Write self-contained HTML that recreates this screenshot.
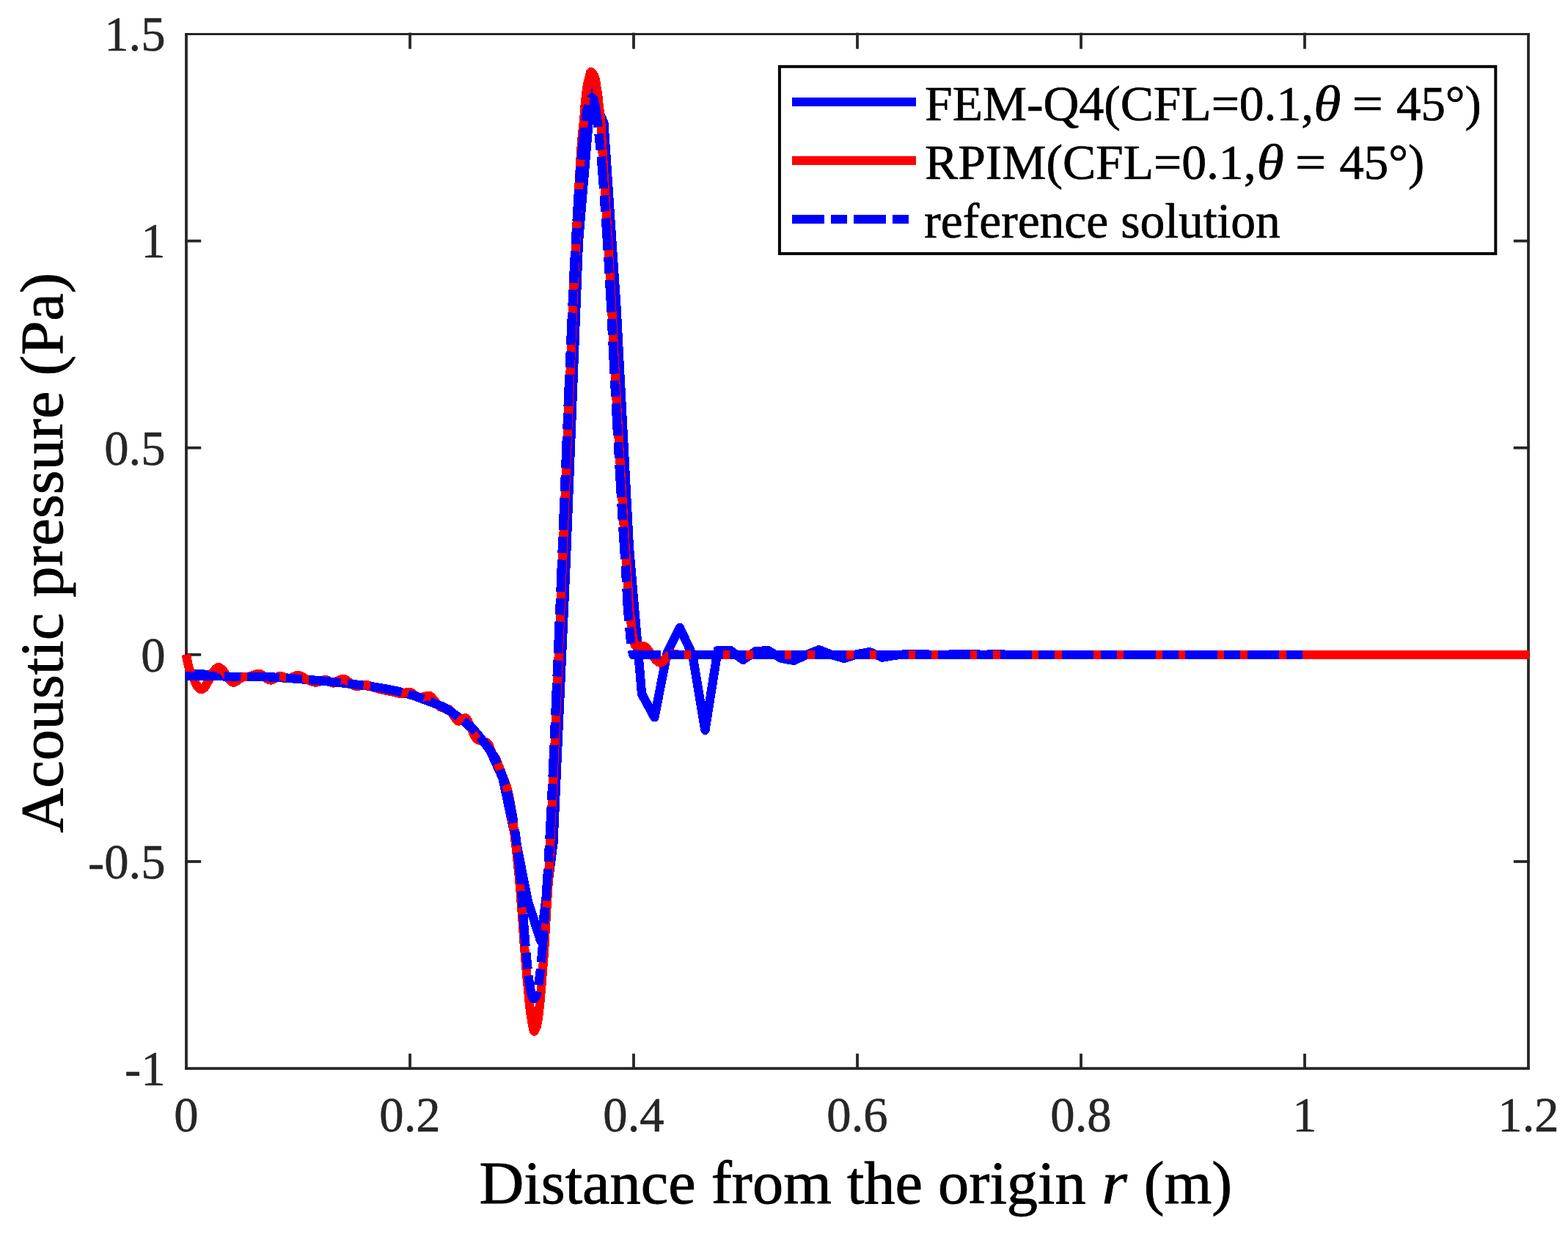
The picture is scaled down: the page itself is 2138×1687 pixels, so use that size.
<!DOCTYPE html>
<html lang="en">
<head>
<meta charset="utf-8">
<title>Acoustic pressure vs distance from the origin</title>
<style>
html,body{margin:0;padding:0;background:#fff;}
body{width:2138px;height:1687px;overflow:hidden;}
svg{display:block;}
text{white-space:pre;}
</style>
</head>
<body>
<svg width="2138" height="1687" viewBox="0 0 2138 1687">
<rect width="2138" height="1687" fill="#fff"/>
<g fill="none" stroke="#262626" stroke-width="3.8" stroke-linecap="square">
<line x1="254" y1="44.95" x2="254" y2="1459" stroke-linecap="butt"/>
<line x1="2084" y1="44.95" x2="2084" y2="1459" stroke-linecap="butt"/>
<line x1="252.1" y1="1457.1" x2="2085.9" y2="1457.1" stroke-linecap="butt"/>
<line x1="252.1" y1="46.45" x2="2085.9" y2="46.45" stroke-linecap="butt" stroke-width="3"/>
<line x1="559.00" y1="1457.1" x2="559.00" y2="1438.8"/>
<line x1="559.00" y1="46.5" x2="559.00" y2="64.8"/>
<line x1="864.00" y1="1457.1" x2="864.00" y2="1438.8"/>
<line x1="864.00" y1="46.5" x2="864.00" y2="64.8"/>
<line x1="1169.00" y1="1457.1" x2="1169.00" y2="1438.8"/>
<line x1="1169.00" y1="46.5" x2="1169.00" y2="64.8"/>
<line x1="1474.00" y1="1457.1" x2="1474.00" y2="1438.8"/>
<line x1="1474.00" y1="46.5" x2="1474.00" y2="64.8"/>
<line x1="1779.00" y1="1457.1" x2="1779.00" y2="1438.8"/>
<line x1="1779.00" y1="46.5" x2="1779.00" y2="64.8"/>
<line x1="254" y1="1174.98" x2="272.3" y2="1174.98"/>
<line x1="2084" y1="1174.98" x2="2065.7" y2="1174.98"/>
<line x1="254" y1="892.86" x2="272.3" y2="892.86"/>
<line x1="2084" y1="892.86" x2="2065.7" y2="892.86"/>
<line x1="254" y1="610.74" x2="272.3" y2="610.74"/>
<line x1="2084" y1="610.74" x2="2065.7" y2="610.74"/>
<line x1="254" y1="328.62" x2="272.3" y2="328.62"/>
<line x1="2084" y1="328.62" x2="2065.7" y2="328.62"/>
</g>
<g font-family="'Liberation Serif', 'Times New Roman', serif" font-size="66.67" fill="#262626" stroke="#262626" stroke-width="0.6" stroke-linejoin="round">
<text x="254.00" y="1543.3" text-anchor="middle">0</text>
<text x="559.00" y="1543.3" text-anchor="middle">0.2</text>
<text x="864.00" y="1543.3" text-anchor="middle">0.4</text>
<text x="1169.00" y="1543.3" text-anchor="middle">0.6</text>
<text x="1474.00" y="1543.3" text-anchor="middle">0.8</text>
<text x="1779.00" y="1543.3" text-anchor="middle">1</text>
<text x="2084.00" y="1543.3" text-anchor="middle">1.2</text>
<text x="225.5" y="69.30" text-anchor="end">1.5</text>
<text x="225.5" y="351.42" text-anchor="end">1</text>
<text x="225.5" y="633.54" text-anchor="end">0.5</text>
<text x="225.5" y="915.66" text-anchor="end">0</text>
<text x="225.5" y="1197.78" text-anchor="end">-0.5</text>
<text x="225.5" y="1479.90" text-anchor="end">-1</text>
</g>
<g fill="none" stroke-width="12.3" stroke-linejoin="round" stroke-linecap="butt" shape-rendering="crispEdges">
<polyline stroke="#0000ff" points="254.0,920.0 271.3,919.0 288.5,920.5 305.8,922.5 323.0,922.9 340.3,922.7 357.5,923.0 374.8,923.7 392.0,924.8 409.3,926.1 426.5,927.5 443.8,929.1 461.0,930.8 478.3,932.7 495.6,934.7 512.8,937.2 530.1,940.2 547.3,944.0 564.6,948.9 581.8,955.3 599.1,961.8 616.3,971.7 633.6,984.3 650.8,1000.7 668.1,1023.1 685.4,1061.0 702.6,1142.0 719.9,1229.0 737.1,1283.0 754.4,1150.0 771.6,770.0 788.9,330.0 806.1,126.0 823.4,168.0 840.6,421.0 857.9,746.0 875.1,946.5 892.4,978.3 909.7,890.0 926.9,856.0 944.2,893.0 961.4,995.8 978.7,886.9 995.9,886.9 1013.2,899.9 1030.4,888.2 1047.7,887.2 1064.9,897.7 1082.2,900.9 1099.4,893.2 1116.7,886.1 1134.0,893.0 1151.2,897.9 1168.5,892.2 1185.7,889.1 1203.0,896.6 1220.2,893.7 1237.5,891.9 1254.7,891.9 1272.0,893.0 1289.2,893.0 1306.5,891.9 1323.7,891.9 1341.0,893.0 1358.3,891.9 1375.5,893.0 1779.0,892.9"/>
<polyline stroke="#ff0000" points="254.0,892.6 254.2,893.8 254.4,895.0 254.5,896.2 254.7,897.4 255.0,898.8 255.2,900.0 255.5,901.3 255.8,902.7 256.1,904.1 256.4,905.5 256.7,907.0 257.1,908.4 257.4,909.7 257.8,911.0 258.3,912.5 258.8,913.8 259.3,915.2 259.9,916.5 260.4,917.7 261.0,919.0 261.6,920.4 262.2,921.7 262.9,923.0 263.5,924.3 264.1,925.6 264.7,927.0 265.3,928.3 265.8,929.7 266.4,931.1 267.0,932.3 267.6,933.5 268.3,934.7 269.0,935.8 269.7,936.8 270.5,937.7 271.4,938.4 272.3,939.0 273.4,939.7 274.5,940.0 275.6,939.8 276.7,939.2 277.8,938.5 278.8,937.6 279.5,936.8 280.1,935.9 280.7,934.8 281.3,933.8 281.9,932.7 282.5,931.6 283.1,930.4 283.7,929.3 284.4,928.1 285.1,926.9 285.9,925.7 286.7,924.3 287.3,923.2 287.9,922.1 288.5,920.9 289.1,919.6 289.8,918.3 290.5,917.1 291.2,916.0 292.0,915.0 292.9,913.9 293.9,912.8 294.9,911.8 295.9,911.0 297.0,910.4 298.0,910.2 299.2,910.4 300.4,911.2 301.7,912.2 302.9,913.3 304.0,914.5 304.9,915.5 305.8,916.7 306.7,918.0 307.6,919.3 308.4,920.6 309.2,921.9 310.0,923.0 310.8,924.2 311.6,925.3 312.4,926.4 313.2,927.4 314.0,928.3 315.0,929.1 316.0,929.9 317.0,930.5 318.0,930.8 319.3,930.6 320.7,930.0 322.0,929.3 323.0,928.7 323.9,927.9 324.9,927.0 325.9,926.2 327.0,925.5 328.1,924.9 329.3,924.4 330.5,923.9 331.7,923.5 333.0,923.2 334.4,923.0 335.8,922.9 337.2,922.9 338.6,922.8 340.0,922.6 341.4,922.2 342.8,921.8 344.2,921.2 345.6,920.7 347.0,920.3 348.4,919.9 349.8,919.4 351.2,919.0 352.6,918.7 354.0,918.8 355.2,919.2 356.4,920.0 357.5,920.9 358.6,921.8 359.8,922.8 361.0,923.6 362.3,924.4 363.6,925.3 365.0,926.1 366.3,926.8 367.7,927.3 369.0,927.5 370.2,927.4 371.4,927.1 372.6,926.5 373.7,925.9 374.9,925.3 376.0,924.8 377.2,924.1 378.4,923.4 379.6,922.7 380.8,922.2 382.0,921.9 383.2,922.0 384.4,922.3 385.6,922.7 386.8,923.2 388.0,923.5 389.4,923.9 390.8,924.4 392.2,924.8 393.6,925.0 395.0,925.0 396.2,924.8 397.4,924.3 398.6,923.6 399.8,923.0 401.0,922.5 402.2,922.1 403.3,921.6 404.5,921.2 405.7,921.0 407.0,921.0 408.1,921.2 409.2,921.6 410.4,922.1 411.6,922.8 412.9,923.5 414.2,924.3 415.4,925.0 416.7,925.7 418.0,926.3 419.3,926.9 420.7,927.5 422.1,928.1 423.4,928.7 424.8,929.2 426.2,929.7 427.5,930.1 428.8,930.4 430.0,930.5 431.5,930.5 432.9,930.2 434.3,929.8 435.6,929.3 437.0,928.9 438.4,928.5 439.8,928.0 441.3,927.4 442.6,927.1 444.0,927.0 445.2,927.3 446.5,927.8 447.7,928.4 448.8,929.1 450.0,929.7 451.3,930.3 452.5,930.9 453.7,931.4 455.0,931.5 456.1,931.3 457.2,930.7 458.4,930.0 459.6,929.2 460.8,928.5 462.0,927.9 463.4,927.3 464.8,926.7 466.2,926.2 467.6,925.9 469.0,925.9 470.1,926.2 471.3,926.8 472.4,927.6 473.6,928.5 474.7,929.4 475.9,930.3 477.0,931.1 478.1,931.8 479.3,932.6 480.4,933.4 481.6,934.2 482.7,934.9 483.9,935.4 485.0,935.8 486.4,935.9 487.8,935.8 489.2,935.6 490.6,935.3 492.0,935.1 493.3,934.9 494.6,934.7 495.9,934.5 497.3,934.3 498.6,934.2 500.0,934.3 501.2,934.5 502.4,934.8 503.7,935.2 504.9,935.7 506.2,936.2 507.5,936.7 508.7,937.1 510.0,937.6 511.4,938.0 512.8,938.4 514.2,938.9 515.6,939.3 517.0,939.7 518.5,940.1 520.0,940.5 521.3,940.8 522.7,941.1 524.0,941.3 525.4,941.6 526.9,941.9 528.3,942.1 529.8,942.4 531.2,942.7 532.6,942.9 534.0,943.2 535.5,943.6 537.0,943.9 538.6,944.4 540.1,944.8 541.6,945.2 543.1,945.5 544.5,945.8 545.8,945.9 547.0,946.0 548.3,945.8 549.6,945.5 550.7,945.1 551.8,944.8 553.0,944.5 554.2,944.2 555.4,944.0 556.6,943.8 557.8,943.7 559.0,943.9 560.2,944.3 561.3,945.0 562.5,945.9 563.6,946.8 564.8,947.6 566.0,948.3 567.1,949.0 568.3,949.6 569.5,950.2 570.6,950.7 571.8,951.1 573.0,951.3 574.4,951.2 575.8,950.9 577.2,950.4 578.6,949.9 580.0,949.6 581.2,949.3 582.5,949.1 583.7,948.9 584.8,948.8 586.0,949.1 587.0,949.7 588.1,950.6 589.1,951.7 590.0,952.9 591.0,954.2 592.0,955.4 593.0,956.5 594.0,957.7 595.0,958.8 595.9,960.0 596.9,961.2 597.9,962.2 598.9,963.2 600.0,964.0 601.3,964.6 602.8,965.1 604.2,965.4 605.6,965.8 607.0,966.1 608.2,966.4 609.5,966.6 610.7,966.9 611.9,967.3 613.0,967.9 613.8,968.6 614.6,969.6 615.4,970.7 616.1,971.9 616.8,973.1 617.5,974.4 618.2,975.5 619.0,976.6 619.8,977.8 620.7,979.0 621.5,980.2 622.4,981.4 623.2,982.3 624.1,983.1 625.0,983.5 626.2,983.5 627.5,983.0 628.7,982.2 630.0,981.6 631.3,980.9 632.5,980.0 633.8,979.4 635.0,979.3 635.8,979.8 636.5,980.6 637.2,981.7 637.9,983.0 638.6,984.5 639.2,986.1 639.9,987.7 640.6,989.3 641.3,990.9 642.0,992.3 642.6,993.6 643.3,995.0 643.9,996.4 644.5,997.9 645.1,999.3 645.8,1000.8 646.4,1002.2 647.1,1003.5 647.8,1004.8 648.5,1005.9 649.2,1006.9 650.0,1007.7 651.1,1008.5 652.2,1009.0 653.4,1009.4 654.6,1009.7 655.8,1010.0 657.0,1010.4 658.3,1010.9 659.7,1011.3 661.2,1011.8 662.5,1012.3 663.8,1013.0 665.0,1013.9 665.8,1014.9 666.5,1016.1 667.2,1017.4 667.8,1018.8 668.3,1020.3 668.8,1021.9 669.3,1023.4 669.9,1024.8 670.4,1026.2 671.0,1027.4 671.8,1028.6 672.5,1029.7 673.3,1030.7 674.0,1031.7 674.8,1032.8 675.5,1034.0 676.1,1035.2 676.7,1036.4 677.2,1037.7 677.8,1039.0 678.3,1040.4 678.9,1041.8 679.4,1043.2 679.9,1044.6 680.5,1046.0 681.0,1047.2 681.5,1048.5 682.0,1049.7 682.5,1051.0 683.0,1052.3 683.5,1053.5 684.0,1054.8 684.5,1056.1 685.0,1057.4 685.5,1058.7 686.0,1060.0 686.5,1061.3 687.0,1062.6 687.6,1064.0 688.1,1065.3 688.6,1066.6 689.1,1067.9 689.6,1069.3 690.1,1070.6 690.6,1072.0 691.1,1073.5 691.5,1075.0 691.9,1076.3 692.2,1077.6 692.5,1078.9 692.9,1080.3 693.2,1081.7 693.5,1083.1 693.8,1084.5 694.1,1086.0 694.4,1087.5 694.7,1088.9 695.0,1090.4 695.2,1091.9 695.5,1093.4 695.8,1095.0 696.0,1096.5 696.3,1098.0 696.5,1099.4 696.8,1100.8 697.0,1102.1 697.2,1103.6 697.4,1105.0 697.6,1106.4 697.8,1107.8 698.0,1109.3 698.2,1110.7 698.4,1112.2 698.5,1113.7 698.7,1115.1 698.9,1116.6 699.1,1118.1 699.3,1119.6 699.5,1121.1 699.6,1122.5 699.8,1124.0 700.0,1125.5 700.2,1127.0 700.4,1128.4 700.6,1129.8 700.7,1131.2 700.9,1132.7 701.1,1134.1 701.3,1135.5 701.4,1136.9 701.6,1138.4 701.8,1139.8 702.0,1141.2 702.1,1142.7 702.3,1144.1 702.5,1145.5 702.6,1147.0 702.8,1148.5 703.0,1149.9 703.1,1151.4 703.3,1152.9 703.5,1154.4 703.7,1155.9 703.8,1157.5 704.0,1159.0 704.2,1160.4 704.3,1161.8 704.5,1163.2 704.6,1164.6 704.8,1166.0 704.9,1167.5 705.1,1168.9 705.2,1170.4 705.4,1171.8 705.5,1173.3 705.7,1174.8 705.9,1176.2 706.0,1177.7 706.2,1179.2 706.3,1180.7 706.5,1182.2 706.6,1183.7 706.8,1185.2 706.9,1186.7 707.1,1188.2 707.2,1189.7 707.4,1191.2 707.5,1192.6 707.7,1194.1 707.8,1195.6 707.9,1197.1 708.1,1198.5 708.2,1200.0 708.3,1201.5 708.5,1203.0 708.6,1204.5 708.7,1206.0 708.9,1207.4 709.0,1208.9 709.1,1210.4 709.2,1211.9 709.4,1213.4 709.5,1214.8 709.6,1216.3 709.7,1217.8 709.8,1219.3 709.9,1220.8 710.1,1222.2 710.2,1223.7 710.3,1225.2 710.4,1226.7 710.5,1228.2 710.6,1229.6 710.7,1231.1 710.8,1232.6 711.0,1234.1 711.1,1235.6 711.2,1237.0 711.3,1238.5 711.4,1240.0 711.5,1241.5 711.6,1243.0 711.7,1244.4 711.8,1245.9 711.9,1247.4 712.0,1248.9 712.1,1250.4 712.3,1251.9 712.4,1253.4 712.5,1254.9 712.6,1256.3 712.7,1257.8 712.8,1259.3 712.9,1260.8 713.0,1262.3 713.1,1263.8 713.2,1265.3 713.3,1266.7 713.4,1268.2 713.5,1269.7 713.6,1271.2 713.7,1272.7 713.8,1274.1 713.9,1275.6 714.0,1277.1 714.1,1278.5 714.2,1280.0 714.3,1281.5 714.4,1283.0 714.5,1284.5 714.6,1285.9 714.8,1287.4 714.9,1288.9 715.0,1290.4 715.1,1291.9 715.2,1293.4 715.3,1294.9 715.4,1296.3 715.6,1297.8 715.7,1299.3 715.8,1300.8 715.9,1302.2 716.0,1303.7 716.1,1305.2 716.3,1306.6 716.4,1308.1 716.5,1309.5 716.6,1310.9 716.7,1312.4 716.8,1313.8 717.0,1315.2 717.1,1316.6 717.2,1318.0 717.3,1319.5 717.5,1321.0 717.6,1322.4 717.7,1323.9 717.8,1325.4 718.0,1326.8 718.1,1328.2 718.2,1329.7 718.4,1331.1 718.5,1332.5 718.6,1333.9 718.8,1335.3 718.9,1336.8 719.0,1338.2 719.2,1339.6 719.3,1341.0 719.4,1342.4 719.6,1343.8 719.7,1345.2 719.8,1346.6 720.0,1348.0 720.1,1349.4 720.2,1350.8 720.4,1352.3 720.5,1353.8 720.6,1355.3 720.8,1356.7 720.9,1358.2 721.1,1359.7 721.2,1361.2 721.3,1362.7 721.5,1364.1 721.6,1365.6 721.7,1367.1 721.9,1368.5 722.0,1369.9 722.2,1371.3 722.3,1372.7 722.5,1374.1 722.6,1375.4 722.8,1376.8 722.9,1378.0 723.1,1379.3 723.3,1380.9 723.5,1382.4 723.7,1383.9 724.0,1385.4 724.2,1386.9 724.4,1388.4 724.7,1389.8 724.9,1391.2 725.1,1392.5 725.4,1393.8 725.6,1395.0 725.8,1396.2 726.0,1397.3 726.3,1399.0 726.6,1400.6 726.9,1402.1 727.2,1403.4 727.5,1404.5 727.9,1405.9 728.3,1406.6 728.9,1405.8 729.5,1404.3 730.1,1403.2 730.7,1402.0 731.3,1400.7 731.7,1399.6 732.0,1398.4 732.3,1397.1 732.6,1395.6 732.9,1394.0 733.1,1392.9 733.3,1391.7 733.5,1390.4 733.7,1389.1 733.9,1387.6 734.1,1386.1 734.3,1384.6 734.5,1383.0 734.7,1381.4 734.8,1379.8 735.0,1378.1 735.2,1376.5 735.4,1374.9 735.6,1373.3 735.7,1371.8 735.9,1370.3 736.1,1368.8 736.2,1367.4 736.4,1365.9 736.5,1364.5 736.6,1363.1 736.8,1361.7 736.9,1360.2 737.0,1358.8 737.1,1357.4 737.3,1356.0 737.4,1354.5 737.5,1353.0 737.6,1351.5 737.8,1350.0 737.9,1348.5 738.0,1347.2 738.1,1345.8 738.2,1344.4 738.4,1343.0 738.5,1341.5 738.6,1340.1 738.7,1338.6 738.8,1337.1 739.0,1335.7 739.1,1334.2 739.2,1332.7 739.3,1331.2 739.4,1329.8 739.5,1328.3 739.7,1326.9 739.8,1325.4 739.9,1324.0 740.0,1322.7 740.1,1321.3 740.2,1320.0 740.3,1318.5 740.4,1317.0 740.6,1315.5 740.7,1314.0 740.8,1312.6 740.9,1311.2 741.0,1309.8 741.2,1308.4 741.3,1307.0 741.4,1305.6 741.5,1304.2 741.6,1302.8 741.7,1301.4 741.8,1300.0 741.9,1298.6 742.0,1297.2 742.1,1295.8 742.1,1294.5 742.2,1293.1 742.3,1291.8 742.4,1290.4 742.4,1289.1 742.5,1287.6 742.6,1286.2 742.6,1284.7 742.7,1283.2 742.8,1281.6 742.9,1280.0 743.0,1278.8 743.0,1277.5 743.1,1276.2 743.2,1274.8 743.3,1273.4 743.4,1272.0 743.4,1270.6 743.5,1269.2 743.6,1267.7 743.7,1266.2 743.8,1264.7 743.9,1263.2 744.0,1261.6 744.1,1260.1 744.2,1258.5 744.3,1257.0 744.4,1255.4 744.5,1253.8 744.6,1252.3 744.6,1250.7 744.7,1249.2 744.8,1247.6 744.9,1246.1 745.0,1244.5 745.1,1243.0 745.2,1241.5 745.3,1240.0 745.4,1238.5 745.5,1237.1 745.6,1235.6 745.7,1234.2 745.8,1232.8 745.8,1231.4 745.9,1230.0 746.0,1228.6 746.1,1227.2 746.2,1225.8 746.3,1224.4 746.4,1223.0 746.5,1221.6 746.6,1220.1 746.7,1218.7 746.8,1217.3 746.9,1215.8 747.0,1214.4 747.0,1212.9 747.1,1211.3 747.2,1209.8 747.3,1208.3 747.4,1206.7 747.5,1205.0 747.6,1203.4 747.7,1201.7 747.8,1200.0 747.9,1198.8 747.9,1197.5 748.0,1196.2 748.1,1194.9 748.1,1193.6 748.2,1192.3 748.3,1190.9 748.3,1189.6 748.4,1188.2 748.5,1186.8 748.6,1185.4 748.6,1184.0 748.7,1182.5 748.8,1181.1 748.8,1179.6 748.9,1178.1 749.0,1176.7 749.0,1175.2 749.1,1173.7 749.2,1172.2 749.3,1170.6 749.3,1169.1 749.4,1167.6 749.5,1166.0 749.5,1164.5 749.6,1162.9 749.7,1161.4 749.8,1159.8 749.8,1158.3 749.9,1156.7 750.0,1155.1 750.0,1153.6 750.1,1152.0 750.2,1150.4 750.3,1148.9 750.3,1147.3 750.4,1145.7 750.5,1144.2 750.5,1142.6 750.6,1141.0 750.7,1139.5 750.8,1137.9 750.8,1136.4 750.9,1134.9 751.0,1133.3 751.0,1131.8 751.1,1130.3 751.2,1128.8 751.3,1127.3 751.3,1125.8 751.4,1124.4 751.5,1122.9 751.5,1121.4 751.6,1120.0 751.7,1118.5 751.7,1116.9 751.8,1115.4 751.9,1113.9 752.0,1112.4 752.0,1110.9 752.1,1109.4 752.2,1107.9 752.3,1106.4 752.3,1105.0 752.4,1103.5 752.5,1102.0 752.5,1100.6 752.6,1099.1 752.7,1097.6 752.8,1096.2 752.8,1094.7 752.9,1093.3 753.0,1091.8 753.1,1090.4 753.1,1088.9 753.2,1087.5 753.3,1086.0 753.3,1084.6 753.4,1083.1 753.5,1081.7 753.6,1080.2 753.6,1078.8 753.7,1077.3 753.8,1075.8 753.8,1074.4 753.9,1072.9 754.0,1071.4 754.1,1069.9 754.1,1068.4 754.2,1066.9 754.3,1065.4 754.3,1063.9 754.4,1062.4 754.5,1060.9 754.6,1059.4 754.6,1057.8 754.7,1056.3 754.8,1054.7 754.9,1053.2 754.9,1051.6 755.0,1050.0 755.1,1048.6 755.1,1047.2 755.2,1045.8 755.3,1044.4 755.3,1043.0 755.4,1041.6 755.4,1040.2 755.5,1038.8 755.6,1037.3 755.6,1035.9 755.7,1034.5 755.8,1033.0 755.8,1031.6 755.9,1030.1 756.0,1028.7 756.0,1027.2 756.1,1025.8 756.2,1024.3 756.2,1022.8 756.3,1021.4 756.3,1019.9 756.4,1018.4 756.5,1016.9 756.5,1015.4 756.6,1013.9 756.7,1012.5 756.7,1011.0 756.8,1009.5 756.9,1008.0 756.9,1006.5 757.0,1005.0 757.1,1003.5 757.1,1002.0 757.2,1000.4 757.2,998.9 757.3,997.4 757.4,995.9 757.4,994.4 757.5,992.9 757.6,991.4 757.6,989.9 757.7,988.3 757.8,986.8 757.8,985.3 757.9,983.8 758.0,982.3 758.0,980.7 758.1,979.2 758.2,977.7 758.2,976.2 758.3,974.7 758.3,973.1 758.4,971.6 758.5,970.1 758.5,968.6 758.6,967.1 758.7,965.6 758.7,964.0 758.8,962.5 758.9,961.0 758.9,959.5 759.0,958.0 759.1,956.5 759.1,955.1 759.2,953.6 759.3,952.2 759.3,950.7 759.4,949.3 759.4,947.8 759.5,946.4 759.6,945.0 759.6,943.5 759.7,942.1 759.7,940.7 759.8,939.2 759.9,937.8 759.9,936.4 760.0,935.0 760.1,933.5 760.1,932.1 760.2,930.7 760.2,929.2 760.3,927.8 760.4,926.4 760.4,925.0 760.5,923.5 760.6,922.1 760.6,920.7 760.7,919.2 760.7,917.8 760.8,916.4 760.9,914.9 760.9,913.5 761.0,912.0 761.1,910.6 761.1,909.1 761.2,907.7 761.2,906.2 761.3,904.8 761.4,903.3 761.4,901.8 761.5,900.4 761.6,898.9 761.6,897.4 761.7,895.9 761.7,894.4 761.8,892.9 761.9,891.4 761.9,889.9 762.0,888.4 762.1,886.9 762.1,885.4 762.2,883.9 762.3,882.3 762.3,880.8 762.4,879.2 762.5,877.7 762.5,876.1 762.6,874.5 762.7,872.9 762.7,871.4 762.8,869.8 762.9,868.2 762.9,866.5 763.0,864.9 763.1,863.3 763.1,861.6 763.2,860.0 763.3,858.7 763.3,857.3 763.4,856.0 763.4,854.7 763.5,853.3 763.5,852.0 763.6,850.6 763.6,849.2 763.7,847.9 763.8,846.5 763.8,845.1 763.9,843.7 763.9,842.4 764.0,841.0 764.0,839.6 764.1,838.2 764.2,836.7 764.2,835.3 764.3,833.9 764.3,832.5 764.4,831.1 764.5,829.6 764.5,828.2 764.6,826.7 764.6,825.3 764.7,823.9 764.8,822.4 764.8,820.9 764.9,819.5 764.9,818.0 765.0,816.5 765.0,815.1 765.1,813.6 765.2,812.1 765.2,810.6 765.3,809.2 765.3,807.7 765.4,806.2 765.5,804.7 765.5,803.2 765.6,801.7 765.7,800.2 765.7,798.7 765.8,797.2 765.8,795.7 765.9,794.1 766.0,792.6 766.0,791.1 766.1,789.6 766.1,788.1 766.2,786.5 766.3,785.0 766.3,783.5 766.4,782.0 766.5,780.4 766.5,778.9 766.6,777.4 766.6,775.8 766.7,774.3 766.8,772.7 766.8,771.2 766.9,769.7 766.9,768.1 767.0,766.6 767.1,765.0 767.1,763.5 767.2,761.9 767.3,760.4 767.3,758.9 767.4,757.3 767.4,755.8 767.5,754.2 767.6,752.7 767.6,751.1 767.7,749.6 767.8,748.0 767.8,746.5 767.9,744.9 767.9,743.4 768.0,741.8 768.1,740.3 768.1,738.7 768.2,737.2 768.3,735.6 768.3,734.1 768.4,732.6 768.4,731.0 768.5,729.5 768.6,727.9 768.6,726.4 768.7,724.8 768.8,723.3 768.8,721.8 768.9,720.2 768.9,718.7 769.0,717.2 769.1,715.6 769.1,714.1 769.2,712.6 769.3,711.1 769.3,709.6 769.4,708.0 769.4,706.5 769.5,705.0 769.6,703.5 769.6,702.1 769.7,700.6 769.7,699.1 769.8,697.7 769.9,696.2 769.9,694.7 770.0,693.3 770.0,691.8 770.1,690.3 770.2,688.8 770.2,687.3 770.3,685.9 770.3,684.4 770.4,682.9 770.5,681.4 770.5,679.9 770.6,678.5 770.6,677.0 770.7,675.5 770.8,674.0 770.8,672.5 770.9,671.0 770.9,669.5 771.0,668.0 771.1,666.6 771.1,665.1 771.2,663.6 771.2,662.1 771.3,660.6 771.4,659.1 771.4,657.6 771.5,656.1 771.5,654.6 771.6,653.1 771.7,651.6 771.7,650.1 771.8,648.6 771.8,647.1 771.9,645.6 772.0,644.1 772.0,642.6 772.1,641.1 772.1,639.6 772.2,638.1 772.3,636.6 772.3,635.1 772.4,633.6 772.5,632.1 772.5,630.6 772.6,629.1 772.6,627.6 772.7,626.1 772.8,624.6 772.8,623.1 772.9,621.6 772.9,620.1 773.0,618.6 773.1,617.1 773.1,615.6 773.2,614.1 773.2,612.6 773.3,611.1 773.4,609.6 773.4,608.1 773.5,606.6 773.5,605.1 773.6,603.6 773.7,602.1 773.7,600.6 773.8,599.1 773.8,597.7 773.9,596.2 774.0,594.7 774.0,593.2 774.1,591.7 774.2,590.2 774.2,588.7 774.3,587.2 774.3,585.7 774.4,584.2 774.5,582.7 774.5,581.2 774.6,579.8 774.6,578.3 774.7,576.8 774.8,575.3 774.8,573.8 774.9,572.3 774.9,570.8 775.0,569.4 775.1,567.9 775.1,566.4 775.2,564.9 775.2,563.5 775.3,562.0 775.4,560.5 775.4,559.0 775.5,557.6 775.5,556.1 775.6,554.6 775.7,553.1 775.7,551.7 775.8,550.2 775.8,548.8 775.9,547.3 776.0,545.8 776.0,544.4 776.1,542.9 776.1,541.5 776.2,540.0 776.3,538.5 776.3,536.9 776.4,535.4 776.5,533.9 776.5,532.3 776.6,530.8 776.6,529.2 776.7,527.7 776.8,526.1 776.8,524.6 776.9,523.0 777.0,521.5 777.0,519.9 777.1,518.4 777.1,516.8 777.2,515.2 777.3,513.7 777.3,512.1 777.4,510.6 777.5,509.0 777.5,507.4 777.6,505.9 777.7,504.3 777.7,502.7 777.8,501.2 777.8,499.6 777.9,498.0 778.0,496.5 778.0,494.9 778.1,493.3 778.2,491.8 778.2,490.2 778.3,488.6 778.4,487.1 778.4,485.5 778.5,483.9 778.5,482.4 778.6,480.8 778.7,479.3 778.7,477.7 778.8,476.1 778.9,474.6 778.9,473.0 779.0,471.5 779.1,469.9 779.1,468.4 779.2,466.8 779.2,465.3 779.3,463.7 779.4,462.2 779.4,460.7 779.5,459.1 779.6,457.6 779.6,456.1 779.7,454.5 779.8,453.0 779.8,451.5 779.9,450.0 779.9,448.4 780.0,446.9 780.1,445.4 780.1,443.9 780.2,442.4 780.3,440.9 780.3,439.4 780.4,437.9 780.4,436.4 780.5,434.9 780.6,433.4 780.6,432.0 780.7,430.5 780.8,429.0 780.8,427.6 780.9,426.1 780.9,424.6 781.0,423.2 781.1,421.7 781.1,420.3 781.2,418.9 781.2,417.4 781.3,416.0 781.4,414.6 781.4,413.2 781.5,411.8 781.5,410.3 781.6,408.9 781.7,407.6 781.7,406.2 781.8,404.8 781.8,403.4 781.9,402.0 782.0,400.7 782.0,399.3 782.1,398.0 782.1,396.6 782.2,395.3 782.3,394.0 782.3,392.6 782.4,391.3 782.4,390.0 782.5,388.7 782.6,387.0 782.7,385.4 782.7,383.7 782.8,382.1 782.9,380.4 782.9,378.8 783.0,377.2 783.1,375.6 783.2,374.0 783.2,372.4 783.3,370.8 783.4,369.2 783.5,367.7 783.5,366.1 783.6,364.5 783.7,363.0 783.8,361.5 783.8,359.9 783.9,358.4 784.0,356.9 784.0,355.4 784.1,353.9 784.2,352.4 784.3,350.9 784.3,349.4 784.4,347.9 784.5,346.4 784.5,344.9 784.6,343.5 784.7,342.0 784.7,340.6 784.8,339.1 784.9,337.7 785.0,336.2 785.0,334.8 785.1,333.4 785.2,331.9 785.2,330.5 785.3,329.1 785.4,327.7 785.5,326.3 785.5,324.9 785.6,323.5 785.7,322.1 785.7,320.7 785.8,319.3 785.9,317.9 785.9,316.5 786.0,315.1 786.1,313.7 786.2,312.3 786.2,311.0 786.3,309.6 786.4,308.2 786.4,306.8 786.5,305.5 786.6,304.1 786.7,302.7 786.7,301.4 786.8,300.0 786.9,298.4 787.0,296.8 787.1,295.2 787.1,293.7 787.2,292.1 787.3,290.5 787.4,289.0 787.5,287.4 787.6,285.9 787.6,284.3 787.7,282.8 787.8,281.2 787.9,279.7 788.0,278.2 788.1,276.6 788.2,275.1 788.2,273.6 788.3,272.1 788.4,270.6 788.5,269.1 788.6,267.6 788.7,266.1 788.7,264.6 788.8,263.2 788.9,261.7 789.0,260.2 789.1,258.8 789.2,257.3 789.3,255.9 789.3,254.5 789.4,253.0 789.5,251.6 789.6,250.2 789.7,248.8 789.8,247.4 789.8,246.0 789.9,244.6 790.0,243.2 790.1,241.8 790.2,240.4 790.3,239.1 790.3,237.7 790.4,236.3 790.5,235.0 790.6,233.4 790.7,231.8 790.8,230.3 790.9,228.7 791.0,227.2 791.1,225.6 791.1,224.1 791.2,222.6 791.3,221.0 791.4,219.5 791.5,218.0 791.6,216.5 791.7,215.1 791.8,213.6 791.9,212.1 791.9,210.7 792.0,209.2 792.1,207.8 792.2,206.3 792.3,204.9 792.4,203.5 792.5,202.1 792.6,200.7 792.7,199.3 792.8,198.0 792.9,196.6 793.0,195.3 793.1,193.9 793.2,192.6 793.3,191.3 793.4,190.0 793.5,188.4 793.7,186.8 793.8,185.2 794.0,183.6 794.1,182.1 794.3,180.6 794.5,179.1 794.6,177.6 794.8,176.1 794.9,174.6 795.1,173.2 795.3,171.7 795.4,170.3 795.6,168.9 795.7,167.5 795.9,166.1 796.0,164.7 796.1,163.3 796.3,162.0 796.4,160.6 796.5,159.0 796.7,157.5 796.8,156.0 796.9,154.5 797.0,153.1 797.1,151.6 797.2,150.2 797.3,148.8 797.4,147.4 797.5,145.9 797.6,144.5 797.7,143.1 797.8,141.6 798.0,140.2 798.1,138.7 798.3,137.2 798.4,135.8 798.6,134.2 798.7,132.7 798.9,131.2 799.1,129.6 799.3,128.1 799.4,126.5 799.6,125.0 799.8,123.5 800.0,122.1 800.2,120.6 800.4,119.2 800.7,117.9 800.9,116.6 801.1,115.4 801.4,113.8 801.8,112.2 802.1,110.8 802.5,109.4 802.9,108.0 803.2,106.7 803.6,105.5 803.9,104.3 804.2,102.8 804.5,101.2 804.7,99.8 805.0,98.7 805.5,98.2 806.3,98.4 807.3,99.3 808.2,100.3 808.8,101.2 809.4,102.1 810.0,103.2 810.5,104.4 811.0,105.7 811.3,106.8 811.6,108.0 811.9,109.3 812.1,110.6 812.4,112.0 812.6,113.4 812.8,114.7 813.0,116.1 813.2,117.4 813.4,118.7 813.7,120.0 813.9,121.3 814.1,122.6 814.3,124.0 814.5,125.3 814.7,126.7 814.9,128.2 815.1,129.5 815.2,130.8 815.4,132.1 815.5,133.5 815.7,134.9 815.8,136.3 816.0,137.8 816.1,139.2 816.3,140.6 816.4,142.0 816.6,143.5 816.7,144.8 816.9,146.2 817.1,147.7 817.3,149.1 817.5,150.5 817.6,151.9 817.8,153.3 818.0,154.7 818.2,156.1 818.4,157.5 818.6,159.0 818.7,160.6 818.9,162.2 819.0,163.5 819.1,164.8 819.2,166.1 819.3,167.5 819.4,168.9 819.5,170.4 819.6,171.8 819.6,173.3 819.7,174.8 819.8,176.3 819.9,177.8 819.9,179.4 820.0,180.9 820.1,182.4 820.2,183.9 820.2,185.5 820.3,187.0 820.4,188.5 820.5,190.0 820.6,191.4 820.7,192.8 820.8,194.1 820.8,195.4 820.9,196.8 821.0,198.1 821.1,199.4 821.2,200.7 821.3,202.0 821.3,203.4 821.4,204.7 821.5,206.1 821.6,207.5 821.7,208.9 821.8,210.3 821.9,211.8 822.0,213.4 822.1,214.9 822.2,216.6 822.3,218.3 822.4,220.0 822.5,221.1 822.5,222.3 822.6,223.5 822.7,224.7 822.8,225.9 822.8,227.2 822.9,228.5 823.0,229.8 823.1,231.1 823.2,232.4 823.3,233.8 823.3,235.2 823.4,236.6 823.5,238.0 823.6,239.4 823.7,240.9 823.8,242.3 823.9,243.8 824.0,245.3 824.1,246.8 824.2,248.3 824.2,249.8 824.3,251.4 824.4,252.9 824.5,254.5 824.6,256.0 824.7,257.6 824.8,259.2 824.9,260.7 825.0,262.3 825.1,263.9 825.2,265.5 825.3,267.1 825.4,268.7 825.5,270.3 825.6,271.9 825.7,273.5 825.8,275.1 825.9,276.7 826.0,278.3 826.1,279.9 826.2,281.5 826.3,283.1 826.4,284.6 826.5,286.2 826.6,287.8 826.7,289.3 826.8,290.9 826.8,292.4 826.9,294.0 827.0,295.5 827.1,297.0 827.2,298.5 827.3,300.0 827.4,301.5 827.5,302.9 827.6,304.4 827.7,305.9 827.7,307.3 827.8,308.7 827.9,310.2 828.0,311.6 828.1,313.0 828.2,314.4 828.3,315.8 828.3,317.2 828.4,318.7 828.5,320.1 828.6,321.5 828.7,322.9 828.8,324.3 828.8,325.6 828.9,327.0 829.0,328.4 829.1,329.8 829.2,331.2 829.3,332.6 829.3,334.0 829.4,335.5 829.5,336.9 829.6,338.3 829.7,339.7 829.8,341.1 829.9,342.6 829.9,344.0 830.0,345.4 830.1,346.9 830.2,348.4 830.3,349.8 830.4,351.3 830.5,352.8 830.5,354.3 830.6,355.8 830.7,357.3 830.8,358.8 830.9,360.4 831.0,361.9 831.1,363.5 831.2,365.1 831.3,366.7 831.3,368.3 831.4,369.9 831.5,371.5 831.6,373.2 831.7,374.9 831.8,376.6 831.9,378.3 832.0,380.0 832.1,381.2 832.1,382.5 832.2,383.8 832.3,385.0 832.3,386.3 832.4,387.6 832.5,388.9 832.6,390.2 832.6,391.5 832.7,392.8 832.8,394.2 832.8,395.5 832.9,396.8 833.0,398.2 833.1,399.6 833.1,400.9 833.2,402.3 833.3,403.7 833.4,405.1 833.4,406.5 833.5,407.9 833.6,409.3 833.7,410.7 833.7,412.1 833.8,413.6 833.9,415.0 833.9,416.4 834.0,417.9 834.1,419.3 834.2,420.8 834.3,422.3 834.3,423.7 834.4,425.2 834.5,426.7 834.6,428.2 834.6,429.7 834.7,431.2 834.8,432.7 834.9,434.2 834.9,435.7 835.0,437.2 835.1,438.7 835.2,440.2 835.3,441.8 835.3,443.3 835.4,444.8 835.5,446.4 835.6,447.9 835.6,449.4 835.7,451.0 835.8,452.5 835.9,454.1 836.0,455.6 836.0,457.2 836.1,458.8 836.2,460.3 836.3,461.9 836.4,463.4 836.4,465.0 836.5,466.6 836.6,468.2 836.7,469.7 836.8,471.3 836.9,472.9 836.9,474.4 837.0,476.0 837.1,477.6 837.2,479.2 837.3,480.8 837.3,482.3 837.4,483.9 837.5,485.5 837.6,487.1 837.7,488.7 837.7,490.2 837.8,491.8 837.9,493.4 838.0,495.0 838.1,496.6 838.2,498.1 838.2,499.7 838.3,501.3 838.4,502.9 838.5,504.5 838.6,506.0 838.7,507.6 838.7,509.2 838.8,510.7 838.9,512.3 839.0,513.9 839.1,515.4 839.2,517.0 839.2,518.5 839.3,520.1 839.4,521.6 839.5,523.2 839.6,524.7 839.6,526.3 839.7,527.8 839.8,529.4 839.9,530.9 840.0,532.4 840.1,533.9 840.1,535.5 840.2,537.0 840.3,538.5 840.4,540.0 840.5,541.5 840.6,543.0 840.6,544.5 840.7,545.9 840.8,547.4 840.9,548.9 841.0,550.5 841.1,552.0 841.1,553.5 841.2,555.0 841.3,556.5 841.4,558.1 841.5,559.6 841.6,561.1 841.7,562.7 841.8,564.2 841.8,565.8 841.9,567.3 842.0,568.9 842.1,570.4 842.2,572.0 842.3,573.6 842.4,575.1 842.5,576.7 842.5,578.3 842.6,579.8 842.7,581.4 842.8,583.0 842.9,584.5 843.0,586.1 843.1,587.7 843.2,589.3 843.3,590.9 843.3,592.4 843.4,594.0 843.5,595.6 843.6,597.2 843.7,598.8 843.8,600.4 843.9,601.9 844.0,603.5 844.1,605.1 844.2,606.7 844.3,608.3 844.3,609.9 844.4,611.4 844.5,613.0 844.6,614.6 844.7,616.2 844.8,617.7 844.9,619.3 845.0,620.9 845.1,622.4 845.2,624.0 845.3,625.6 845.3,627.1 845.4,628.7 845.5,630.3 845.6,631.8 845.7,633.4 845.8,634.9 845.9,636.4 846.0,638.0 846.1,639.5 846.2,641.1 846.2,642.6 846.3,644.1 846.4,645.6 846.5,647.2 846.6,648.7 846.7,650.2 846.8,651.7 846.9,653.2 847.0,654.7 847.0,656.2 847.1,657.6 847.2,659.1 847.3,660.6 847.4,662.0 847.5,663.5 847.6,665.0 847.7,666.4 847.7,667.8 847.8,669.3 847.9,670.7 848.0,672.1 848.1,673.5 848.2,675.0 848.2,676.4 848.3,677.7 848.4,679.1 848.5,680.5 848.6,681.9 848.7,683.2 848.7,684.6 848.8,685.9 848.9,687.3 849.0,688.6 849.1,689.9 849.1,691.2 849.2,692.5 849.3,693.8 849.4,695.1 849.5,696.4 849.5,697.6 849.6,698.9 849.7,700.1 849.8,701.4 849.8,702.6 849.9,703.8 850.0,705.0 850.1,706.7 850.2,708.5 850.3,710.2 850.4,711.9 850.5,713.6 850.6,715.3 850.8,716.9 850.9,718.6 851.0,720.2 851.1,721.8 851.2,723.4 851.3,725.0 851.4,726.6 851.5,728.1 851.6,729.7 851.7,731.2 851.8,732.7 851.9,734.2 852.0,735.7 852.1,737.2 852.2,738.7 852.3,740.2 852.4,741.7 852.5,743.1 852.6,744.6 852.7,746.0 852.8,747.4 852.9,748.8 853.0,750.2 853.1,751.7 853.2,753.1 853.3,754.4 853.4,755.8 853.4,757.2 853.5,758.6 853.6,759.9 853.7,761.3 853.8,762.7 853.9,764.0 854.0,765.4 854.1,766.7 854.2,768.0 854.3,769.4 854.4,770.7 854.5,772.0 854.6,773.4 854.6,774.7 854.7,776.0 854.8,777.4 854.9,778.7 855.0,780.0 855.1,781.6 855.2,783.2 855.3,784.9 855.4,786.5 855.5,788.1 855.6,789.7 855.7,791.3 855.8,792.9 855.9,794.5 856.0,796.1 856.1,797.7 856.2,799.3 856.3,800.9 856.4,802.4 856.5,804.0 856.6,805.5 856.7,807.0 856.8,808.6 856.9,810.0 857.0,811.5 857.1,813.0 857.2,814.4 857.3,815.9 857.4,817.3 857.5,818.6 857.6,820.0 857.7,821.3 857.8,822.7 857.9,823.9 858.0,825.2 858.1,826.5 858.2,827.7 858.3,828.8 858.4,830.0 858.6,831.7 858.7,833.4 858.9,834.9 859.0,836.5 859.2,837.9 859.4,839.4 859.5,840.7 859.7,842.1 859.8,843.4 860.0,844.8 860.1,846.1 860.3,847.4 860.5,848.7 860.6,850.0 860.8,851.5 860.9,852.9 861.1,854.3 861.2,855.7 861.3,857.1 861.5,858.5 861.6,859.9 861.8,861.2 861.9,862.5 862.1,863.8 862.3,865.0 862.5,866.6 862.8,868.1 863.1,869.6 863.3,871.1 863.6,872.4 864.0,873.8 864.3,875.0 864.8,876.6 865.3,878.1 865.8,879.4 866.5,880.3 867.7,880.9 869.0,881.2 870.4,881.3 872.0,881.2 873.4,881.1 875.0,881.0 876.6,880.9 878.0,881.2 879.1,881.7 880.0,882.5 880.9,883.4 881.9,884.4 882.7,885.3 883.6,886.3 884.5,887.4 885.3,888.5 886.2,889.7 887.1,890.9 888.0,892.0 888.9,893.1 889.8,894.3 890.8,895.5 891.7,896.7 892.6,897.8 893.5,898.8 894.3,899.7 895.4,900.9 896.5,901.8 897.5,902.6 898.7,903.3 900.0,903.6 901.0,903.5 902.0,903.1 903.0,902.6 904.0,901.7 905.0,900.7 906.0,899.6 906.8,898.8 907.7,898.1 908.6,897.3 909.5,896.5 910.6,895.6 911.7,894.6 912.8,893.7 914.0,893.0 915.2,892.5 916.4,892.2 917.7,892.0 919.0,891.9 920.1,891.9 921.3,892.1 922.5,892.3 923.7,892.5 925.0,892.7 926.3,892.8 927.7,892.8 929.1,892.9 930.6,892.9 932.1,892.9 933.5,892.9 935.0,892.9 2084.7,892.9"/>
<polyline stroke="#0000ff" stroke-dasharray="43.801,9.261,22.026,9.261" points="252.5,922.0 254.0,922.0 255.5,922.0 257.0,922.0 258.5,922.0 260.0,922.0 261.5,922.0 263.0,922.0 264.6,922.0 266.1,922.0 267.6,922.0 269.1,922.0 270.5,922.0 272.0,922.0 273.5,922.0 275.0,922.0 276.4,922.0 277.8,922.0 279.2,922.0 280.7,922.0 282.1,922.0 283.5,922.0 284.8,922.0 286.2,922.0 287.6,922.0 289.0,922.0 290.4,922.0 291.8,922.0 293.2,922.1 294.6,922.1 296.0,922.1 297.4,922.1 298.8,922.2 300.2,922.2 301.6,922.3 303.0,922.4 304.4,922.4 305.7,922.5 307.1,922.6 308.5,922.6 309.9,922.7 311.3,922.7 312.7,922.8 314.2,922.8 315.6,922.9 317.0,922.9 318.4,922.9 319.8,922.9 321.2,922.9 322.6,922.9 324.0,922.9 325.4,922.9 326.8,922.8 328.2,922.8 329.6,922.8 331.1,922.8 332.5,922.7 334.0,922.7 335.5,922.7 337.0,922.7 338.5,922.7 340.0,922.7 341.4,922.7 342.8,922.7 344.2,922.7 345.6,922.8 347.1,922.8 348.5,922.8 350.0,922.8 351.5,922.9 353.0,922.9 354.5,922.9 356.0,923.0 357.5,923.0 359.0,923.1 360.5,923.1 362.0,923.1 363.6,923.2 365.1,923.3 366.6,923.3 368.0,923.4 369.5,923.4 371.0,923.5 372.4,923.6 373.9,923.6 375.3,923.7 376.7,923.8 378.1,923.9 379.5,924.0 380.9,924.0 382.2,924.1 383.6,924.2 385.0,924.3 386.4,924.4 387.8,924.5 389.2,924.6 390.6,924.7 392.1,924.8 393.5,924.9 395.0,925.0 396.5,925.2 397.9,925.3 399.5,925.4 401.0,925.5 402.3,925.6 403.7,925.7 405.1,925.8 406.4,925.9 407.8,926.0 409.2,926.1 410.7,926.2 412.1,926.3 413.5,926.5 415.0,926.6 416.4,926.7 417.9,926.8 419.4,926.9 420.8,927.1 422.3,927.2 423.8,927.3 425.3,927.4 426.8,927.5 428.2,927.7 429.7,927.8 431.2,927.9 432.7,928.1 434.2,928.2 435.7,928.3 437.2,928.5 438.6,928.6 440.1,928.7 441.5,928.9 443.0,929.0 444.5,929.1 445.9,929.3 447.4,929.4 448.9,929.6 450.4,929.7 452.0,929.9 453.5,930.0 455.0,930.2 456.6,930.4 458.1,930.5 459.6,930.7 461.2,930.8 462.7,931.0 464.2,931.2 465.7,931.3 467.2,931.5 468.7,931.7 470.2,931.8 471.7,932.0 473.1,932.1 474.5,932.3 475.9,932.5 477.3,932.6 478.7,932.8 480.0,932.9 481.3,933.1 482.6,933.2 483.8,933.4 485.0,933.5 486.6,933.7 488.2,933.9 489.7,934.0 491.1,934.2 492.5,934.4 493.8,934.5 495.1,934.7 496.4,934.8 497.8,935.0 499.1,935.2 500.5,935.4 501.9,935.5 503.4,935.8 505.0,936.0 506.3,936.2 507.6,936.4 508.9,936.6 510.3,936.8 511.7,937.0 513.2,937.3 514.6,937.5 516.1,937.7 517.6,938.0 519.1,938.2 520.6,938.5 522.2,938.7 523.7,939.0 525.2,939.3 526.8,939.5 528.3,939.8 529.8,940.1 531.3,940.4 532.8,940.7 534.3,941.0 535.8,941.3 537.2,941.6 538.6,941.9 540.0,942.2 541.5,942.5 543.0,942.9 544.5,943.2 545.9,943.6 547.4,944.0 548.9,944.4 550.3,944.7 551.8,945.1 553.2,945.5 554.6,945.9 556.0,946.3 557.4,946.7 558.8,947.1 560.2,947.5 561.5,947.9 562.9,948.4 564.2,948.8 565.5,949.2 566.8,949.6 568.0,950.0 569.5,950.5 571.0,951.0 572.4,951.6 573.8,952.1 575.2,952.6 576.6,953.2 577.9,953.7 579.2,954.3 580.6,954.8 581.9,955.4 583.2,955.9 584.6,956.5 586.0,957.0 587.3,957.5 588.7,958.0 590.0,958.5 591.4,959.0 592.8,959.5 594.1,959.9 595.5,960.4 596.9,960.9 598.2,961.5 599.6,962.0 601.0,962.6 602.3,963.2 603.7,963.8 605.0,964.5 606.2,965.1 607.4,965.8 608.6,966.6 609.8,967.3 611.0,968.1 612.2,968.9 613.4,969.7 614.6,970.5 615.8,971.4 617.0,972.2 618.2,973.1 619.4,973.9 620.5,974.7 621.7,975.6 622.8,976.4 623.9,977.2 625.0,978.0 626.2,978.9 627.5,979.8 628.7,980.7 629.9,981.5 631.1,982.4 632.2,983.2 633.4,984.1 634.5,985.0 635.7,985.9 636.8,986.7 637.9,987.6 638.9,988.6 640.0,989.5 641.1,990.5 642.2,991.5 643.2,992.5 644.3,993.6 645.3,994.6 646.3,995.7 647.3,996.8 648.3,997.8 649.3,998.9 650.2,999.9 651.1,1001.0 652.0,1002.0 653.0,1003.2 653.9,1004.4 654.8,1005.5 655.7,1006.7 656.6,1007.9 657.4,1009.0 658.3,1010.2 659.1,1011.3 660.0,1012.5 660.9,1013.7 661.8,1014.8 662.7,1016.0 663.6,1017.1 664.5,1018.3 665.4,1019.5 666.3,1020.6 667.2,1021.8 668.0,1023.0 668.8,1024.2 669.7,1025.4 670.5,1026.6 671.3,1027.8 672.1,1029.0 672.8,1030.2 673.6,1031.5 674.3,1032.7 675.0,1034.0 675.6,1035.3 676.2,1036.6 676.8,1037.9 677.4,1039.2 677.9,1040.5 678.4,1041.9 678.9,1043.2 679.5,1044.6 680.0,1046.0 680.5,1047.2 681.0,1048.5 681.5,1049.7 682.0,1051.0 682.5,1052.3 683.0,1053.5 683.5,1054.8 684.0,1056.1 684.5,1057.4 685.0,1058.7 685.5,1060.0 686.0,1061.3 686.5,1062.6 686.9,1064.0 687.4,1065.3 687.8,1066.6 688.3,1067.9 688.7,1069.3 689.2,1070.6 689.6,1072.1 690.1,1073.5 690.5,1075.0 690.9,1076.3 691.2,1077.6 691.6,1079.0 691.9,1080.3 692.3,1081.7 692.6,1083.1 693.0,1084.6 693.3,1086.0 693.7,1087.5 694.0,1088.9 694.4,1090.4 694.7,1091.9 695.0,1093.4 695.4,1095.0 695.7,1096.5 696.0,1098.0 696.3,1099.4 696.6,1100.8 696.8,1102.1 697.1,1103.6 697.4,1105.0 697.7,1106.4 697.9,1107.8 698.2,1109.3 698.5,1110.7 698.7,1112.2 699.0,1113.7 699.2,1115.1 699.5,1116.6 699.7,1118.1 700.0,1119.6 700.2,1121.0 700.5,1122.5 700.7,1124.0 701.0,1125.5 701.2,1127.0 701.4,1128.4 701.6,1129.8 701.9,1131.2 702.1,1132.7 702.3,1134.1 702.5,1135.5 702.7,1136.9 702.9,1138.3 703.1,1139.8 703.3,1141.2 703.5,1142.6 703.6,1144.1 703.8,1145.5 704.0,1147.0 704.2,1148.5 704.4,1149.9 704.6,1151.4 704.8,1152.9 705.0,1154.4 705.1,1155.9 705.3,1157.5 705.5,1159.0 705.7,1160.4 705.8,1161.8 706.0,1163.2 706.1,1164.6 706.3,1166.0 706.5,1167.5 706.6,1168.9 706.8,1170.4 706.9,1171.8 707.1,1173.3 707.3,1174.8 707.4,1176.2 707.6,1177.7 707.7,1179.2 707.9,1180.7 708.0,1182.2 708.2,1183.7 708.3,1185.2 708.5,1186.7 708.6,1188.2 708.7,1189.7 708.9,1191.2 709.0,1192.6 709.2,1194.1 709.3,1195.6 709.4,1197.1 709.6,1198.5 709.7,1200.0 709.8,1201.5 710.0,1203.0 710.1,1204.5 710.2,1205.9 710.3,1207.4 710.5,1208.9 710.6,1210.4 710.7,1211.9 710.8,1213.4 710.9,1214.8 711.0,1216.3 711.2,1217.8 711.3,1219.3 711.4,1220.8 711.5,1222.2 711.6,1223.7 711.7,1225.2 711.8,1226.7 711.9,1228.2 712.0,1229.6 712.1,1231.1 712.3,1232.6 712.4,1234.1 712.5,1235.6 712.6,1237.0 712.7,1238.5 712.8,1240.0 712.9,1241.5 713.0,1243.0 713.1,1244.5 713.2,1246.0 713.3,1247.5 713.5,1249.0 713.6,1250.5 713.7,1252.0 713.8,1253.5 713.9,1255.0 714.0,1256.5 714.1,1258.0 714.2,1259.5 714.3,1261.0 714.4,1262.5 714.5,1264.0 714.6,1265.5 714.7,1267.0 714.8,1268.5 714.9,1269.9 715.0,1271.4 715.1,1272.9 715.3,1274.3 715.4,1275.8 715.5,1277.2 715.6,1278.6 715.7,1280.0 715.8,1281.5 716.0,1283.1 716.1,1284.6 716.2,1286.1 716.3,1287.6 716.5,1289.1 716.6,1290.6 716.7,1292.0 716.8,1293.5 717.0,1295.0 717.1,1296.4 717.2,1297.9 717.4,1299.3 717.5,1300.8 717.6,1302.2 717.8,1303.6 717.9,1305.0 718.0,1306.4 718.2,1307.8 718.3,1309.2 718.5,1310.6 718.6,1312.0 718.8,1313.5 718.9,1315.1 719.1,1316.6 719.2,1318.2 719.4,1319.7 719.6,1321.3 719.7,1322.8 719.9,1324.3 720.0,1325.9 720.2,1327.4 720.4,1328.8 720.5,1330.3 720.7,1331.7 720.9,1333.0 721.0,1334.3 721.2,1335.6 721.3,1336.8 721.5,1338.0 721.7,1339.6 721.9,1341.1 722.2,1342.5 722.4,1343.8 722.6,1345.1 722.8,1346.4 723.0,1347.7 723.3,1349.0 723.6,1350.4 723.9,1351.9 724.2,1353.4 724.5,1354.8 724.9,1356.2 725.2,1357.4 725.6,1358.5 726.1,1360.0 726.7,1361.2 727.3,1361.9 728.1,1361.8 729.0,1361.2 729.7,1360.5 730.3,1359.6 730.9,1358.5 731.4,1357.4 731.7,1356.1 732.0,1354.7 732.4,1353.0 732.6,1352.0 732.8,1350.9 733.0,1349.7 733.3,1348.4 733.5,1347.1 733.7,1345.7 734.0,1344.2 734.2,1342.7 734.4,1341.1 734.7,1339.6 734.9,1338.0 735.1,1336.3 735.4,1334.7 735.6,1333.1 735.8,1331.6 736.0,1330.0 736.2,1328.7 736.3,1327.3 736.5,1326.0 736.6,1324.7 736.8,1323.3 736.9,1321.9 737.1,1320.6 737.2,1319.2 737.4,1317.8 737.5,1316.4 737.6,1315.0 737.8,1313.6 737.9,1312.2 738.1,1310.7 738.2,1309.2 738.3,1307.8 738.5,1306.3 738.6,1304.7 738.7,1303.2 738.9,1301.6 739.0,1300.0 739.1,1298.7 739.2,1297.4 739.3,1296.0 739.4,1294.7 739.6,1293.3 739.7,1291.9 739.8,1290.4 739.9,1289.0 740.0,1287.5 740.1,1286.1 740.2,1284.6 740.3,1283.1 740.5,1281.6 740.6,1280.0 740.7,1278.5 740.8,1277.0 740.9,1275.4 741.0,1273.9 741.1,1272.4 741.2,1270.8 741.3,1269.3 741.4,1267.7 741.6,1266.2 741.7,1264.7 741.8,1263.2 741.9,1261.7 742.0,1260.1 742.1,1258.7 742.2,1257.2 742.3,1255.7 742.4,1254.3 742.5,1252.8 742.6,1251.4 742.7,1250.0 742.8,1248.4 742.9,1246.9 743.0,1245.3 743.2,1243.7 743.3,1242.1 743.4,1240.5 743.5,1239.0 743.6,1237.4 743.7,1235.8 743.8,1234.3 743.9,1232.7 744.0,1231.2 744.1,1229.6 744.3,1228.1 744.4,1226.6 744.5,1225.1 744.6,1223.6 744.7,1222.2 744.8,1220.7 744.9,1219.3 745.0,1217.9 745.1,1216.5 745.2,1215.1 745.2,1213.8 745.3,1212.5 745.4,1211.2 745.5,1210.0 745.6,1208.4 745.7,1206.9 745.8,1205.5 745.9,1204.1 746.0,1202.8 746.1,1201.6 746.2,1200.3 746.2,1199.1 746.3,1197.8 746.4,1196.4 746.5,1195.0 746.6,1193.4 746.7,1191.8 746.8,1190.0 746.9,1188.9 746.9,1187.8 747.0,1186.7 747.1,1185.6 747.1,1184.4 747.2,1183.1 747.3,1181.9 747.4,1180.6 747.4,1179.3 747.5,1177.9 747.6,1176.5 747.7,1175.1 747.8,1173.7 747.8,1172.3 747.9,1170.8 748.0,1169.3 748.1,1167.8 748.2,1166.3 748.3,1164.8 748.4,1163.2 748.4,1161.6 748.5,1160.0 748.6,1158.5 748.7,1156.9 748.8,1155.2 748.9,1153.6 749.0,1152.0 749.1,1150.4 749.2,1148.7 749.3,1147.1 749.3,1145.5 749.4,1143.8 749.5,1142.2 749.6,1140.5 749.7,1138.9 749.8,1137.3 749.9,1135.7 750.0,1134.0 750.0,1132.4 750.1,1130.8 750.2,1129.2 750.3,1127.7 750.4,1126.1 750.5,1124.5 750.5,1123.0 750.6,1121.5 750.7,1120.0 750.8,1118.5 750.9,1117.0 750.9,1115.6 751.0,1114.1 751.1,1112.6 751.1,1111.1 751.2,1109.7 751.3,1108.2 751.4,1106.7 751.4,1105.3 751.5,1103.8 751.6,1102.4 751.7,1100.9 751.7,1099.4 751.8,1098.0 751.9,1096.5 751.9,1095.1 752.0,1093.6 752.1,1092.2 752.1,1090.7 752.2,1089.3 752.3,1087.8 752.3,1086.3 752.4,1084.9 752.5,1083.4 752.5,1081.9 752.6,1080.5 752.7,1079.0 752.8,1077.5 752.8,1076.0 752.9,1074.5 753.0,1073.0 753.0,1071.6 753.1,1070.1 753.2,1068.5 753.2,1067.0 753.3,1065.5 753.4,1064.0 753.4,1062.5 753.5,1060.9 753.6,1059.4 753.6,1057.9 753.7,1056.3 753.8,1054.7 753.9,1053.2 753.9,1051.6 754.0,1050.0 754.1,1048.6 754.1,1047.2 754.2,1045.8 754.3,1044.4 754.3,1043.0 754.4,1041.6 754.4,1040.2 754.5,1038.8 754.6,1037.3 754.6,1035.9 754.7,1034.5 754.8,1033.0 754.8,1031.6 754.9,1030.1 755.0,1028.7 755.0,1027.2 755.1,1025.8 755.1,1024.3 755.2,1022.8 755.3,1021.4 755.3,1019.9 755.4,1018.4 755.5,1016.9 755.5,1015.4 755.6,1013.9 755.7,1012.5 755.7,1011.0 755.8,1009.5 755.9,1008.0 755.9,1006.5 756.0,1005.0 756.0,1003.5 756.1,1002.0 756.2,1000.4 756.2,998.9 756.3,997.4 756.4,995.9 756.4,994.4 756.5,992.9 756.6,991.4 756.6,989.9 756.7,988.3 756.8,986.8 756.8,985.3 756.9,983.8 757.0,982.3 757.0,980.7 757.1,979.2 757.2,977.7 757.2,976.2 757.3,974.7 757.3,973.1 757.4,971.6 757.5,970.1 757.5,968.6 757.6,967.1 757.7,965.6 757.7,964.0 757.8,962.5 757.9,961.0 757.9,959.5 758.0,958.0 758.1,956.5 758.1,955.1 758.2,953.6 758.3,952.2 758.3,950.7 758.4,949.3 758.4,947.8 758.5,946.4 758.6,945.0 758.6,943.5 758.7,942.1 758.7,940.7 758.8,939.2 758.9,937.8 758.9,936.4 759.0,935.0 759.1,933.5 759.1,932.1 759.2,930.7 759.2,929.2 759.3,927.8 759.4,926.4 759.4,925.0 759.5,923.5 759.6,922.1 759.6,920.7 759.7,919.2 759.7,917.8 759.8,916.4 759.9,914.9 759.9,913.5 760.0,912.0 760.1,910.6 760.1,909.1 760.2,907.7 760.2,906.2 760.3,904.8 760.4,903.3 760.4,901.8 760.5,900.4 760.6,898.9 760.6,897.4 760.7,895.9 760.7,894.4 760.8,892.9 760.9,891.4 760.9,889.9 761.0,888.4 761.1,886.9 761.1,885.4 761.2,883.9 761.3,882.3 761.3,880.8 761.4,879.2 761.5,877.7 761.5,876.1 761.6,874.5 761.7,872.9 761.7,871.4 761.8,869.8 761.9,868.2 761.9,866.5 762.0,864.9 762.1,863.3 762.1,861.6 762.2,860.0 762.3,858.7 762.3,857.3 762.4,856.0 762.4,854.7 762.5,853.3 762.5,852.0 762.6,850.6 762.6,849.2 762.7,847.9 762.8,846.5 762.8,845.1 762.9,843.7 762.9,842.4 763.0,841.0 763.0,839.6 763.1,838.2 763.2,836.7 763.2,835.3 763.3,833.9 763.3,832.5 763.4,831.1 763.5,829.6 763.5,828.2 763.6,826.7 763.6,825.3 763.7,823.9 763.8,822.4 763.8,820.9 763.9,819.5 763.9,818.0 764.0,816.5 764.0,815.1 764.1,813.6 764.2,812.1 764.2,810.6 764.3,809.2 764.3,807.7 764.4,806.2 764.5,804.7 764.5,803.2 764.6,801.7 764.7,800.2 764.7,798.7 764.8,797.2 764.8,795.7 764.9,794.1 765.0,792.6 765.0,791.1 765.1,789.6 765.1,788.1 765.2,786.5 765.3,785.0 765.3,783.5 765.4,782.0 765.5,780.4 765.5,778.9 765.6,777.4 765.6,775.8 765.7,774.3 765.8,772.7 765.8,771.2 765.9,769.7 765.9,768.1 766.0,766.6 766.1,765.0 766.1,763.5 766.2,761.9 766.3,760.4 766.3,758.9 766.4,757.3 766.4,755.8 766.5,754.2 766.6,752.7 766.6,751.1 766.7,749.6 766.8,748.0 766.8,746.5 766.9,744.9 766.9,743.4 767.0,741.8 767.1,740.3 767.1,738.7 767.2,737.2 767.3,735.6 767.3,734.1 767.4,732.6 767.4,731.0 767.5,729.5 767.6,727.9 767.6,726.4 767.7,724.8 767.8,723.3 767.8,721.8 767.9,720.2 767.9,718.7 768.0,717.2 768.1,715.6 768.1,714.1 768.2,712.6 768.3,711.1 768.3,709.6 768.4,708.0 768.4,706.5 768.5,705.0 768.6,703.5 768.6,702.1 768.7,700.6 768.7,699.1 768.8,697.7 768.9,696.2 768.9,694.7 769.0,693.3 769.0,691.8 769.1,690.3 769.2,688.8 769.2,687.4 769.3,685.9 769.3,684.4 769.4,682.9 769.5,681.5 769.5,680.0 769.6,678.5 769.6,677.0 769.7,675.5 769.7,674.1 769.8,672.6 769.9,671.1 769.9,669.6 770.0,668.1 770.0,666.7 770.1,665.2 770.2,663.7 770.2,662.2 770.3,660.7 770.3,659.2 770.4,657.7 770.5,656.2 770.5,654.8 770.6,653.3 770.6,651.8 770.7,650.3 770.8,648.8 770.8,647.3 770.9,645.8 770.9,644.3 771.0,642.8 771.1,641.3 771.1,639.8 771.2,638.4 771.2,636.9 771.3,635.4 771.4,633.9 771.4,632.4 771.5,630.9 771.5,629.4 771.6,627.9 771.7,626.4 771.7,624.9 771.8,623.4 771.8,621.9 771.9,620.4 772.0,618.9 772.0,617.4 772.1,615.9 772.1,614.4 772.2,612.9 772.3,611.4 772.3,610.0 772.4,608.5 772.4,607.0 772.5,605.5 772.6,604.0 772.6,602.5 772.7,601.0 772.7,599.5 772.8,598.0 772.9,596.5 772.9,595.0 773.0,593.5 773.1,592.0 773.1,590.5 773.2,589.0 773.2,587.5 773.3,586.0 773.4,584.5 773.4,583.1 773.5,581.6 773.5,580.1 773.6,578.6 773.7,577.1 773.7,575.6 773.8,574.1 773.8,572.6 773.9,571.1 774.0,569.6 774.0,568.2 774.1,566.7 774.1,565.2 774.2,563.7 774.3,562.2 774.3,560.7 774.4,559.2 774.5,557.8 774.5,556.3 774.6,554.8 774.6,553.3 774.7,551.8 774.8,550.3 774.8,548.9 774.9,547.4 775.0,545.9 775.0,544.4 775.1,543.0 775.1,541.5 775.2,540.0 775.3,538.5 775.3,537.0 775.4,535.5 775.5,533.9 775.5,532.4 775.6,530.9 775.6,529.4 775.7,527.8 775.8,526.3 775.8,524.7 775.9,523.2 776.0,521.6 776.0,520.1 776.1,518.5 776.2,517.0 776.2,515.4 776.3,513.9 776.4,512.3 776.4,510.7 776.5,509.2 776.6,507.6 776.6,506.0 776.7,504.4 776.8,502.9 776.8,501.3 776.9,499.7 777.0,498.1 777.0,496.6 777.1,495.0 777.2,493.4 777.2,491.8 777.3,490.2 777.4,488.7 777.4,487.1 777.5,485.5 777.6,483.9 777.6,482.3 777.7,480.8 777.8,479.2 777.8,477.6 777.9,476.0 778.0,474.4 778.0,472.9 778.1,471.3 778.2,469.7 778.2,468.1 778.3,466.6 778.4,465.0 778.4,463.4 778.5,461.9 778.6,460.3 778.6,458.7 778.7,457.2 778.8,455.6 778.8,454.1 778.9,452.5 779.0,451.0 779.0,449.4 779.1,447.9 779.2,446.4 779.2,444.8 779.3,443.3 779.4,441.8 779.4,440.2 779.5,438.7 779.6,437.2 779.6,435.7 779.7,434.2 779.8,432.7 779.8,431.2 779.9,429.7 780.0,428.2 780.0,426.7 780.1,425.2 780.2,423.7 780.2,422.3 780.3,420.8 780.4,419.3 780.4,417.9 780.5,416.4 780.6,415.0 780.6,413.6 780.7,412.1 780.7,410.7 780.8,409.3 780.9,407.9 780.9,406.5 781.0,405.1 781.1,403.7 781.1,402.3 781.2,400.9 781.3,399.6 781.3,398.2 781.4,396.8 781.5,395.5 781.5,394.2 781.6,392.8 781.6,391.5 781.7,390.2 781.8,388.9 781.8,387.6 781.9,386.3 782.0,385.0 782.0,383.8 782.1,382.5 782.1,381.2 782.2,380.0 782.3,378.3 782.4,376.6 782.5,374.9 782.5,373.2 782.6,371.5 782.7,369.9 782.8,368.2 782.9,366.6 783.0,365.0 783.0,363.4 783.1,361.8 783.2,360.2 783.3,358.7 783.4,357.1 783.4,355.6 783.5,354.0 783.6,352.5 783.7,351.0 783.8,349.5 783.9,348.0 783.9,346.5 784.0,345.0 784.1,343.6 784.2,342.1 784.3,340.6 784.3,339.2 784.4,337.8 784.5,336.3 784.6,334.9 784.7,333.5 784.7,332.1 784.8,330.6 784.9,329.2 785.0,327.8 785.1,326.4 785.1,325.0 785.2,323.6 785.3,322.2 785.4,320.9 785.5,319.5 785.5,318.1 785.6,316.7 785.7,315.3 785.8,313.9 785.9,312.5 785.9,311.1 786.0,309.8 786.1,308.4 786.2,307.0 786.3,305.6 786.3,304.2 786.4,302.8 786.5,301.4 786.6,300.0 786.7,298.4 786.8,296.9 786.9,295.3 787.0,293.8 787.1,292.2 787.2,290.7 787.2,289.2 787.3,287.6 787.4,286.1 787.5,284.5 787.6,283.0 787.7,281.5 787.8,279.9 787.9,278.4 788.0,276.9 788.1,275.4 788.2,273.8 788.2,272.3 788.3,270.8 788.4,269.3 788.5,267.8 788.6,266.3 788.7,264.8 788.8,263.4 788.9,261.9 789.0,260.4 789.1,258.9 789.2,257.5 789.3,256.0 789.4,254.6 789.5,253.1 789.6,251.7 789.7,250.2 789.8,248.8 789.9,247.4 790.0,246.0 790.1,244.6 790.2,243.2 790.3,241.8 790.4,240.4 790.5,239.1 790.6,237.7 790.7,236.3 790.8,235.0 790.9,233.4 791.1,231.8 791.2,230.3 791.3,228.7 791.5,227.2 791.6,225.6 791.7,224.1 791.9,222.6 792.0,221.1 792.1,219.5 792.3,218.0 792.4,216.6 792.6,215.1 792.7,213.6 792.9,212.1 793.0,210.7 793.1,209.2 793.3,207.8 793.4,206.4 793.6,205.0 793.7,203.5 793.9,202.1 794.0,200.8 794.2,199.4 794.3,198.0 794.5,196.6 794.6,195.3 794.8,194.0 794.9,192.6 795.1,191.3 795.2,190.0 795.4,188.4 795.6,186.9 795.7,185.3 795.9,183.8 796.1,182.3 796.2,180.8 796.4,179.3 796.6,177.8 796.8,176.3 797.0,174.9 797.1,173.4 797.3,172.0 797.5,170.6 797.7,169.2 797.9,167.8 798.0,166.5 798.2,165.1 798.4,163.8 798.6,162.5 798.8,161.3 799.0,160.0 799.3,158.4 799.5,156.9 799.8,155.3 800.0,153.8 800.3,152.3 800.5,150.8 800.8,149.4 801.1,148.0 801.4,146.7 801.6,145.4 801.9,144.2 802.2,143.1 802.5,142.0 803.0,140.4 803.4,139.0 803.9,137.7 804.4,136.5 805.0,135.5 805.7,134.4 806.5,133.6 807.2,133.2 807.9,133.6 808.6,134.4 809.2,135.5 809.7,136.6 810.0,137.8 810.3,139.2 810.7,140.7 811.0,142.3 811.2,143.4 811.5,144.6 811.7,145.8 812.0,147.1 812.2,148.4 812.5,149.8 812.7,151.2 813.0,152.7 813.2,154.2 813.4,155.7 813.7,157.3 813.9,158.9 814.1,160.2 814.2,161.5 814.4,162.8 814.6,164.2 814.7,165.6 814.9,167.1 815.1,168.6 815.2,170.1 815.4,171.6 815.5,173.1 815.7,174.6 815.8,176.2 816.0,177.8 816.1,179.3 816.3,180.9 816.4,182.4 816.6,184.0 816.7,185.5 816.9,187.0 817.0,188.5 817.2,190.0 817.3,191.4 817.5,192.8 817.6,194.2 817.8,195.5 817.9,196.9 818.1,198.2 818.2,199.5 818.3,200.8 818.5,202.1 818.6,203.5 818.8,204.8 818.9,206.2 819.0,207.5 819.2,208.9 819.3,210.4 819.5,211.9 819.6,213.4 819.8,215.0 819.9,216.6 820.0,218.3 820.2,220.0 820.3,221.1 820.4,222.3 820.5,223.5 820.6,224.7 820.7,225.9 820.8,227.2 820.9,228.5 821.0,229.8 821.1,231.1 821.2,232.4 821.3,233.8 821.4,235.2 821.5,236.6 821.6,238.0 821.8,239.4 821.9,240.9 822.0,242.3 822.1,243.8 822.2,245.3 822.3,246.8 822.4,248.3 822.5,249.8 822.6,251.4 822.7,252.9 822.9,254.5 823.0,256.0 823.1,257.6 823.2,259.2 823.3,260.7 823.4,262.3 823.5,263.9 823.6,265.5 823.8,267.1 823.9,268.7 824.0,270.3 824.1,271.9 824.2,273.5 824.3,275.1 824.4,276.7 824.5,278.3 824.6,279.9 824.7,281.5 824.9,283.1 825.0,284.6 825.1,286.2 825.2,287.8 825.3,289.3 825.4,290.9 825.5,292.4 825.6,294.0 825.7,295.5 825.8,297.0 825.9,298.5 826.0,300.0 826.1,301.5 826.2,302.9 826.3,304.4 826.4,305.9 826.5,307.3 826.6,308.7 826.7,310.2 826.8,311.6 826.9,313.0 827.0,314.4 827.1,315.8 827.2,317.2 827.2,318.7 827.3,320.1 827.4,321.5 827.5,322.9 827.6,324.2 827.7,325.6 827.8,327.0 827.9,328.4 828.0,329.8 828.1,331.2 828.2,332.6 828.2,334.0 828.3,335.5 828.4,336.9 828.5,338.3 828.6,339.7 828.7,341.1 828.8,342.6 828.9,344.0 829.0,345.4 829.0,346.9 829.1,348.4 829.2,349.8 829.3,351.3 829.4,352.8 829.5,354.3 829.6,355.8 829.7,357.3 829.8,358.8 829.9,360.4 830.0,361.9 830.0,363.5 830.1,365.1 830.2,366.7 830.3,368.3 830.4,369.9 830.5,371.5 830.6,373.2 830.7,374.9 830.8,376.6 830.9,378.3 831.0,380.0 831.1,381.2 831.1,382.5 831.2,383.8 831.3,385.0 831.4,386.3 831.4,387.6 831.5,388.9 831.6,390.2 831.6,391.5 831.7,392.8 831.8,394.2 831.9,395.5 831.9,396.8 832.0,398.2 832.1,399.6 832.1,400.9 832.2,402.3 832.3,403.7 832.4,405.1 832.4,406.5 832.5,407.9 832.6,409.3 832.7,410.7 832.7,412.1 832.8,413.6 832.9,415.0 833.0,416.4 833.0,417.9 833.1,419.3 833.2,420.8 833.3,422.3 833.3,423.7 833.4,425.2 833.5,426.7 833.5,428.2 833.6,429.7 833.7,431.2 833.8,432.7 833.9,434.2 833.9,435.7 834.0,437.2 834.1,438.7 834.2,440.2 834.2,441.8 834.3,443.3 834.4,444.8 834.5,446.4 834.5,447.9 834.6,449.4 834.7,451.0 834.8,452.5 834.8,454.1 834.9,455.6 835.0,457.2 835.1,458.8 835.2,460.3 835.2,461.9 835.3,463.4 835.4,465.0 835.5,466.6 835.5,468.2 835.6,469.7 835.7,471.3 835.8,472.9 835.9,474.4 835.9,476.0 836.0,477.6 836.1,479.2 836.2,480.8 836.2,482.3 836.3,483.9 836.4,485.5 836.5,487.1 836.6,488.7 836.6,490.2 836.7,491.8 836.8,493.4 836.9,495.0 837.0,496.6 837.0,498.1 837.1,499.7 837.2,501.3 837.3,502.9 837.4,504.4 837.4,506.0 837.5,507.6 837.6,509.2 837.7,510.7 837.7,512.3 837.8,513.9 837.9,515.4 838.0,517.0 838.1,518.5 838.2,520.1 838.2,521.6 838.3,523.2 838.4,524.7 838.5,526.3 838.6,527.8 838.6,529.4 838.7,530.9 838.8,532.4 838.9,533.9 839.0,535.5 839.0,537.0 839.1,538.5 839.2,540.0 839.3,541.5 839.4,543.0 839.4,544.5 839.5,545.9 839.6,547.4 839.7,548.9 839.8,550.5 839.8,552.0 839.9,553.5 840.0,555.0 840.1,556.5 840.2,558.1 840.3,559.6 840.3,561.1 840.4,562.7 840.5,564.2 840.6,565.8 840.7,567.3 840.8,568.9 840.9,570.4 840.9,572.0 841.0,573.6 841.1,575.1 841.2,576.7 841.3,578.3 841.4,579.8 841.5,581.4 841.5,583.0 841.6,584.5 841.7,586.1 841.8,587.7 841.9,589.3 842.0,590.9 842.1,592.4 842.2,594.0 842.2,595.6 842.3,597.2 842.4,598.8 842.5,600.4 842.6,601.9 842.7,603.5 842.8,605.1 842.9,606.7 842.9,608.3 843.0,609.9 843.1,611.4 843.2,613.0 843.3,614.6 843.4,616.2 843.5,617.7 843.6,619.3 843.7,620.9 843.7,622.4 843.8,624.0 843.9,625.6 844.0,627.1 844.1,628.7 844.2,630.3 844.3,631.8 844.4,633.4 844.4,634.9 844.5,636.4 844.6,638.0 844.7,639.5 844.8,641.1 844.9,642.6 845.0,644.1 845.1,645.6 845.1,647.2 845.2,648.7 845.3,650.2 845.4,651.7 845.5,653.2 845.6,654.7 845.7,656.2 845.7,657.6 845.8,659.1 845.9,660.6 846.0,662.0 846.1,663.5 846.2,665.0 846.2,666.4 846.3,667.8 846.4,669.3 846.5,670.7 846.6,672.1 846.7,673.5 846.7,675.0 846.8,676.4 846.9,677.7 847.0,679.1 847.1,680.5 847.1,681.9 847.2,683.2 847.3,684.6 847.4,685.9 847.5,687.3 847.5,688.6 847.6,689.9 847.7,691.2 847.8,692.5 847.8,693.8 847.9,695.1 848.0,696.4 848.1,697.6 848.1,698.9 848.2,700.1 848.3,701.4 848.4,702.6 848.4,703.8 848.5,705.0 848.6,706.7 848.7,708.5 848.8,710.2 848.9,711.9 849.0,713.6 849.1,715.3 849.2,716.9 849.3,718.6 849.4,720.2 849.5,721.8 849.6,723.4 849.7,725.0 849.8,726.6 849.9,728.1 850.0,729.7 850.1,731.2 850.2,732.7 850.3,734.2 850.4,735.7 850.5,737.2 850.6,738.7 850.7,740.2 850.8,741.7 850.9,743.1 851.0,744.6 851.1,746.0 851.2,747.4 851.2,748.8 851.3,750.2 851.4,751.7 851.5,753.1 851.6,754.4 851.7,755.8 851.8,757.2 851.9,758.6 852.0,759.9 852.0,761.3 852.1,762.7 852.2,764.0 852.3,765.4 852.4,766.7 852.5,768.0 852.6,769.4 852.6,770.7 852.7,772.0 852.8,773.4 852.9,774.7 853.0,776.0 853.0,777.4 853.1,778.7 853.2,780.0 853.3,781.6 853.4,783.2 853.5,784.8 853.6,786.4 853.7,788.0 853.7,789.6 853.8,791.2 853.9,792.7 854.0,794.3 854.1,795.8 854.2,797.4 854.2,798.9 854.3,800.4 854.4,801.9 854.5,803.4 854.5,804.9 854.6,806.4 854.7,807.9 854.8,809.4 854.8,810.8 854.9,812.3 855.0,813.7 855.1,815.1 855.2,816.5 855.2,817.9 855.3,819.3 855.4,820.7 855.5,822.1 855.6,823.4 855.6,824.8 855.7,826.1 855.8,827.4 855.9,828.7 856.0,830.0 856.1,831.6 856.2,833.2 856.4,834.8 856.5,836.3 856.6,837.8 856.7,839.4 856.8,840.9 857.0,842.3 857.1,843.8 857.2,845.3 857.4,846.7 857.5,848.1 857.6,849.5 857.7,850.9 857.9,852.2 858.0,853.6 858.1,854.9 858.2,856.2 858.4,857.5 858.5,858.7 858.6,860.0 858.8,861.6 858.9,863.2 859.0,864.8 859.2,866.3 859.3,867.8 859.4,869.2 859.6,870.7 859.7,872.1 859.9,873.5 860.0,874.9 860.2,876.3 860.4,877.7 860.6,879.1 860.8,880.5 861.1,881.9 861.3,883.3 861.6,884.7 861.9,886.1 862.1,887.4 862.4,888.8 862.7,890.2 862.9,891.5 863.2,892.9 903.0,892.9"/>
<polyline stroke="#0000ff" stroke-dasharray="43.5,9.3,22,9.475" stroke-dashoffset="47" points="905.0,892.9 1779.0,892.9"/>
</g>
<rect x="1062.9" y="90.8" width="976.4" height="255.1" fill="#fff" stroke="#000" stroke-width="4"/>
<g fill="none" stroke-width="12.3" stroke-linecap="butt" shape-rendering="crispEdges">
<line x1="1080" y1="138.7" x2="1249" y2="138.7" stroke="#0000ff"/>
<line x1="1080" y1="218.8" x2="1249" y2="218.8" stroke="#ff0000"/>
<line x1="1080" y1="298.9" x2="1240" y2="298.9" stroke="#0000ff" stroke-dasharray="43.75,9.25,22,9.25"/>
</g>
<text transform="translate(0,1640.60)" font-family="'Liberation Serif', 'Times New Roman', serif" font-size="83.33" fill="#000" stroke="#000" stroke-width="0.9" stroke-linejoin="round"><tspan x="653.42" textLength="827.30" lengthAdjust="spacingAndGlyphs">Distance from the origin</tspan><tspan x="1480.39" textLength="56.46" lengthAdjust="spacingAndGlyphs" font-style="italic"> r</tspan><tspan x="1538.81" textLength="141.19" lengthAdjust="spacingAndGlyphs"> (m)</tspan></text>
<text transform="translate(85.00,0) rotate(-90)" font-family="'Liberation Serif', 'Times New Roman', serif" font-size="83.33" fill="#000" stroke="#000" stroke-width="0.9" stroke-linejoin="round"><tspan x="-1135.75" textLength="763.78" lengthAdjust="spacingAndGlyphs">Acoustic pressure (Pa)</tspan></text>
<text transform="translate(0,163.90)" font-family="'Liberation Serif', 'Times New Roman', serif" font-size="66.67" fill="#000" stroke="#000" stroke-width="0.7" stroke-linejoin="round"><tspan x="1261.14" textLength="530.03" lengthAdjust="spacingAndGlyphs">FEM-Q4(CFL=0.1,</tspan><tspan x="1791.35" textLength="37.15" lengthAdjust="spacingAndGlyphs" font-style="italic">θ</tspan><tspan x="1825.05" textLength="79.34" lengthAdjust="spacingAndGlyphs"> = </tspan><tspan x="1904.05" textLength="115.70" lengthAdjust="spacingAndGlyphs">45°)</tspan></text>
<text transform="translate(0,244.30)" font-family="'Liberation Serif', 'Times New Roman', serif" font-size="66.67" fill="#000" stroke="#000" stroke-width="0.7" stroke-linejoin="round"><tspan x="1261.14" textLength="451.43" lengthAdjust="spacingAndGlyphs">RPIM(CFL=0.1,</tspan><tspan x="1713.64" textLength="37.26" lengthAdjust="spacingAndGlyphs" font-style="italic">θ</tspan><tspan x="1747.45" textLength="79.34" lengthAdjust="spacingAndGlyphs"> = </tspan><tspan x="1826.45" textLength="115.70" lengthAdjust="spacingAndGlyphs">45°)</tspan></text>
<text transform="translate(0,323.90)" font-family="'Liberation Serif', 'Times New Roman', serif" font-size="66.67" fill="#000" stroke="#000" stroke-width="0.7" stroke-linejoin="round"><tspan x="1260.34" textLength="485.34" lengthAdjust="spacingAndGlyphs">reference solution</tspan></text>
</svg>
</body>
</html>
